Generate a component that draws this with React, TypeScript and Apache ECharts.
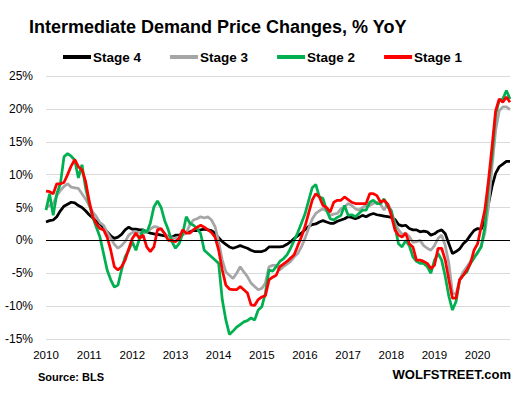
import React, { useEffect, useRef } from "react";
import * as echarts from "echarts";

const years = [2010, 2011, 2012, 2013, 2014, 2015, 2016, 2017, 2018, 2019, 2020];
const monthCount = 130; // Jan 2010 .. Oct 2020

const yTicks = { min: -15, max: 25, step: 5 };

// % YoY, monthly, Jan 2010 .. Oct 2020
const stage4 = [
  2.8, 3.0, 3.1, 3.6, 4.5, 5.2, 5.5, 5.8, 5.7, 5.3, 5.0, 4.5,
  3.9, 3.4, 2.9, 2.5, 1.9, 1.3, 0.7, 0.3, 0.5, 0.9, 1.6, 2.0,
  1.7, 1.7, 1.6, 1.6, 1.3, 1.1, 1.0, 0.9, 0.8, 0.7, 0.6, 0.5,
  0.8, 0.8, 0.9, 1.2, 1.3, 1.5, 1.5, 1.6, 1.7, 1.6, 1.5, 1.1,
  0.4, -0.2, -0.6, -1.0, -1.2, -1.0, -0.8, -1.0, -1.2, -1.5, -1.7, -1.7,
  -1.7, -1.5, -1.0, -1.0, -1.0, -1.0, -0.9, -0.6, -0.2, 0.3, 0.7, 1.1,
  1.6, 2.1, 2.4, 2.5, 2.8, 3.0, 2.8, 2.6, 2.6, 2.9, 3.1, 3.3,
  3.6, 3.5, 3.3, 3.5, 3.8, 3.6, 3.9, 4.1, 3.9, 3.8, 3.7, 3.6,
  3.5, 3.2, 2.4, 2.2, 2.3, 1.8, 1.6, 1.6, 1.3, 1.4, 1.3, 0.8,
  1.0, 1.4, 1.6, 1.0, -0.5, -2.0, -1.7, -1.3, -0.5, 0.0, 0.8, 1.5,
  1.8, 1.7, 3.0, 5.5, 8.2, 10.2, 11.2, 11.6, 12.0, 12.0,
];

const stage3 = [
  5.0, 5.3, 5.6, 6.8, 7.6, 8.2, 8.6, 8.1, 8.0, 7.9, 7.1, 6.3,
  5.3, 4.3, 3.6, 2.7, 2.3, 1.2, 0.3, -0.6, -1.2, -0.8, -0.2, 0.8,
  1.2, 1.3, 1.2, 1.1, 1.3, 1.7, 2.1, 2.0, 1.6, 1.1, 0.5, 0.4,
  0.3, 0.5, 0.9, 1.1, 2.4, 3.1, 3.3, 3.6, 3.4, 3.6, 3.1, 2.1,
  -0.2, -3.0, -4.8, -5.3, -5.8, -5.0, -4.0, -4.8, -5.5, -6.5, -7.0, -7.5,
  -7.3, -6.5, -4.0, -3.8, -3.8, -4.5, -4.0, -3.6, -3.2, -2.5, -2.0, -1.0,
  0.3, 1.8, 3.2, 4.1, 4.5, 4.8, 4.5, 3.8, 4.0, 4.1, 4.8, 5.1,
  5.6, 5.3, 4.8, 4.6, 5.0, 5.3, 5.3, 5.6, 5.8, 5.5, 4.6, 5.6,
  4.5, 2.6, 1.6, 0.9, 1.1, 0.6, -0.3, -0.2, 0.0, -0.8, -1.2, -1.5,
  -0.8, 0.3, 0.8, -0.8, -3.5, -8.0, -8.2, -6.0, -4.8, -4.0, -3.2, -2.5,
  -2.0, -0.8, 1.1, 5.1, 11.2, 16.7, 19.7, 20.3, 20.3, 19.9,
];

const stage2 = [
  4.6, 7.1, 3.8, 7.1, 8.6, 12.7, 13.2, 12.8, 12.2, 9.5, 11.5, 8.0,
  5.6, 3.5, 2.0, 0.5, -2.0, -4.5, -6.0, -7.1, -6.8, -4.5, -2.5, -1.5,
  -0.2, -1.5, 0.3, 1.6, 1.2, 2.6, 5.1, 6.0, 5.0, 3.0, 1.6, -0.2,
  -1.2, -0.5, 1.0, 3.6, 2.6, 2.3, 1.8, 1.0, -1.5, -2.0, -2.5, -3.0,
  -3.5, -9.0, -12.1, -14.3, -13.8, -13.2, -12.8, -12.4, -12.2, -11.8, -12.1, -10.6,
  -10.1, -8.0, -4.5, -4.7, -4.0, -3.2, -2.8, -2.2, -1.2, 0.0, 1.2, 2.6,
  4.0, 6.0, 8.0, 8.5, 6.6, 6.4, 4.6, 3.3, 3.1, 3.5, 3.8, 5.3,
  3.8, 3.9, 3.6, 4.1, 4.6, 4.6, 5.8, 6.1, 5.6, 5.6, 6.3, 5.1,
  4.5, 2.1, -0.5, -1.0, 0.0, -0.8, -2.5, -3.2, -3.5, -3.5, -4.0, -5.0,
  -3.0, -2.0, -3.0, -5.5, -8.5, -10.6, -9.3, -6.0, -5.3, -4.8, -3.5, -2.7,
  -1.8, -1.0, 2.0, 8.5, 12.7, 19.2, 21.3, 21.5, 22.8, 21.5,
];

const stage1 = [
  7.5, 7.4, 7.1, 8.6, 8.6, 8.8, 10.0, 11.3, 12.3, 11.2, 10.7, 9.0,
  6.0, 3.6, 2.5, 1.8, 1.6, 0.5, -1.5, -4.0, -4.5, -4.0, -3.0, -1.3,
  0.3, 1.1, 0.3, 0.8, -1.0, -1.7, -1.0, 1.6, 1.8, 1.0, 0.0, 0.0,
  -0.2, 0.3, 1.6, 1.1, 1.1, 1.6, 2.0, 2.3, 2.0, 1.6, 1.2, 0.5,
  -1.5, -4.5, -6.8, -7.4, -7.5, -7.5, -7.0, -7.5, -8.0, -9.8, -9.9, -9.0,
  -8.6, -8.4, -6.0, -5.6, -5.3, -4.0, -3.6, -3.2, -2.7, -2.2, -0.8, 0.5,
  2.1, 4.1, 6.1, 7.1, 6.6, 5.3, 5.0, 4.3, 5.8, 6.1, 6.1, 6.6,
  6.2, 5.8, 5.6, 5.6, 5.6, 5.6, 7.1, 7.1, 6.8, 5.8, 6.1, 5.5,
  3.8, 1.6, 0.8, 0.5, 1.1, -0.5, -1.0, -3.0, -3.0, -3.2, -3.5, -4.3,
  -3.8, -1.2, -1.2, -3.0, -6.0, -8.8, -8.8, -6.0, -5.3, -4.5, -3.5, -1.5,
  -0.5, 2.1, 4.6, 9.0, 14.2, 19.7, 21.5, 21.0, 21.8, 21.0,
];

const seriesNames = ["Stage 4", "Stage 3", "Stage 2", "Stage 1"];
const seriesColors = ["#000000", "#a6a6a6", "#00b050", "#ff0000"];
const seriesData = [stage4, stage3, stage2, stage1];

const months: string[] = [];
for (const y of years) {
  for (let m = 1; m <= 12; m++) {
    if (months.length < monthCount) months.push(`${y}-${String(m).padStart(2, "0")}`);
  }
}

const FONT = "'Liberation Sans', Arial, sans-serif";

export default function App() {
  const ref = useRef<HTMLDivElement>(null);

  useEffect(() => {
    document.body.style.margin = "0";
    if (!ref.current) return;
    const chart = echarts.init(ref.current, undefined, { renderer: "svg" });
    chart.setOption({
      animation: false,
      backgroundColor: "#ffffff",
      textStyle: { fontFamily: FONT },
      grid: { left: 46, right: 7, top: 76, bottom: 57, containLabel: false },
      legend: {
        top: 45,
        left: 58,
        itemWidth: 28,
        itemHeight: 4,
        itemGap: 29,
        itemStyle: { borderWidth: 0 },
        textStyle: { fontFamily: FONT, fontWeight: "bold", fontSize: 13.5, color: "#000", padding: [0, 0, 0, -3] },
        data: seriesNames.map((n) => ({ name: n, icon: "rect" })),
      },
      xAxis: {
        type: "category",
        data: months,
        boundaryGap: false,
        axisLine: { show: false },
        axisTick: { show: false },
        splitLine: { show: false },
        axisLabel: {
          interval: (i: number) => i % 12 === 0,
          formatter: (v: string) => v.slice(0, 4),
          fontFamily: FONT,
          fontSize: 11.5,
          color: "#000",
          margin: 10,
        },
      },
      yAxis: {
        type: "value",
        min: yTicks.min,
        max: yTicks.max,
        interval: yTicks.step,
        axisLine: { show: false },
        axisTick: { show: false },
        splitLine: { lineStyle: { color: "#d9d9d9", width: 1 } },
        axisLabel: { formatter: "{value}%", fontFamily: FONT, fontSize: 12, color: "#000", margin: 13 },
      },
      series: seriesNames.map((name, i) => ({
        name,
        type: "line",
        data: seriesData[i],
        showSymbol: false,
        symbol: "none",
        color: seriesColors[i],
        lineStyle: { color: seriesColors[i], width: 2.75 },
        ...(i === 0
          ? {
              markLine: {
                silent: true,
                symbol: "none",
                label: { show: false },
                lineStyle: { color: "#000", width: 1, type: "solid" },
                data: [{ yAxis: 0 }],
              },
            }
          : {}),
      })),
      graphic: [
        {
          type: "text",
          left: 29,
          top: 18,
          style: {
            text: "Intermediate Demand Price Changes, % YoY",
            fontFamily: FONT,
            fontWeight: "bold",
            fontSize: 18,
            fill: "#000",
          },
        },
        {
          type: "text",
          left: 38,
          top: 371,
          style: { text: "Source: BLS", fontFamily: FONT, fontWeight: "bold", fontSize: 11, fill: "#000" },
        },
        {
          type: "text",
          right: 6,
          top: 368,
          style: { text: "WOLFSTREET.com", fontFamily: FONT, fontWeight: "bold", fontSize: 13, fill: "#000" },
        },
      ],
    });
    return () => chart.dispose();
  }, []);

  return <div ref={ref} style={{ width: 517, height: 396 }} />;
}
